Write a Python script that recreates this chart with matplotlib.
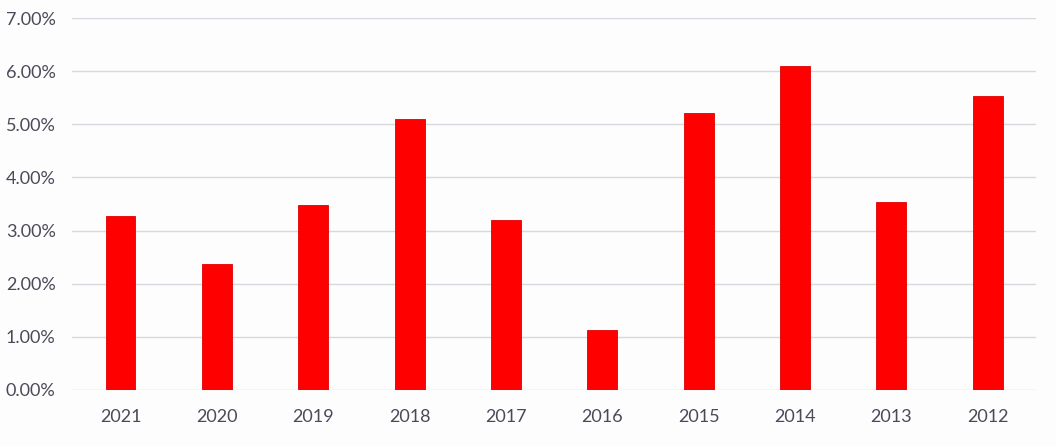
import matplotlib.pyplot as plt
from matplotlib.ticker import FuncFormatter

# Values (percent)
years = ["2021", "2020", "2019", "2018", "2017", "2016", "2015", "2014", "2013", "2012"]
rates = [3.27, 2.37, 3.49, 5.10, 3.19, 1.13, 5.22, 6.09, 3.53, 5.53]

plt.rcParams["font.family"] = ["Lato", "DejaVu Sans"]

fig = plt.figure(figsize=(10.56, 4.46), dpi=100, facecolor="#fdfdfe")
ax = fig.add_axes([0.0685, 0.1256, 0.9125, 0.834])
ax.set_facecolor("#fdfdfe")

x = range(len(years))
ax.bar(x, rates, width=0.31, color="#ff0000", edgecolor="#e00000", linewidth=0.6, zorder=3)

ax.set_xlim(-0.5, len(years) - 0.5)
ax.set_ylim(0, 7)
ax.set_yticks(range(0, 8))
ax.yaxis.set_major_formatter(FuncFormatter(lambda v, p: f"{v:.2f}%"))
ax.set_xticks(list(x))
ax.set_xticklabels(years)

ax.grid(axis="y", color="#d8d8df", linewidth=1, zorder=0)
for s in ax.spines.values():
    s.set_visible(False)
ax.tick_params(length=0, labelsize=13, colors="#4a4a58")
ax.tick_params(axis="y", pad=12)
ax.tick_params(axis="x", pad=14)

fig.savefig("out.png", dpi=100, facecolor=fig.get_facecolor())
